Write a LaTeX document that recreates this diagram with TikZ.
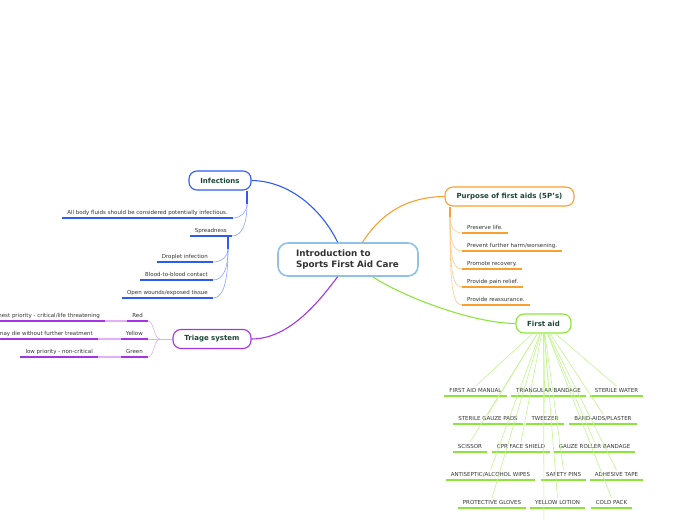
\documentclass[tikz,border=0pt]{standalone}
\usepackage{fontspec}
\setmainfont{DejaVu Sans}
\usetikzlibrary{
  arrows.meta,
  positioning
}
\definecolor{cblue}{HTML}{2E5BF5}
\definecolor{cblueL}{HTML}{8AA4FF}
\definecolor{cbluebox}{HTML}{8EC3E6}
\definecolor{corange}{HTML}{F9A12E}
\definecolor{corangeL}{HTML}{FCCB88}
\definecolor{cpurple}{HTML}{A534E6}
\definecolor{cpurpleL}{HTML}{DFB0F4}
\definecolor{cgreen}{HTML}{8CE63A}
\definecolor{cgreenL}{HTML}{C2F590}
\definecolor{topictxt}{HTML}{1B4636}
\definecolor{ctext}{HTML}{333333}
\newcommand{\leaffont}{\fontsize{5.5}{6.5}\selectfont}
\tikzset{
  topic/.style={draw=#1, line width=1.1pt, rounded corners=8pt, minimum height=19pt,
    inner xsep=0pt, text=topictxt, font=\bfseries\fontsize{7}{8}\selectfont},
  leaf/.style={text=ctext, font=\leaffont, inner xsep=5pt, inner ysep=2.2pt,
    text height=4pt, text depth=1.1pt,
    append after command={(\tikzlastnode.south west) edge[draw=#1, line width=1.8pt] (\tikzlastnode.south east)}},
  link/.style={draw=#1, line width=1.1pt},
  twig/.style={draw=#1, line width=0.6pt},
}

\begin{document}
\begin{tikzpicture}[x=1pt, y=-1pt]
  \useasboundingbox (0,0) rectangle (697,520);

  % main topics
  \node[draw=cbluebox, line width=1.6pt, rounded corners=10pt, text width=104pt,
    inner xsep=18pt, minimum height=33pt, align=left, text=ctext,
    font=\bfseries\fontsize{8.8}{11}\selectfont] (cen) at (348,259.5)
    {Introduction to\\Sports First Aid Care};
  \node[topic=cblue, minimum width=62pt] (inf) at (220,180.5) {Infections};
  \node[topic=corange, minimum width=129pt] (pur) at (509.5,196.5) {Purpose of first aids (5P's)};
  \node[topic=cpurple, minimum width=78pt] (tri) at (212,339) {Triage system};
  \node[topic=cgreen, minimum width=55pt] (fa) at (543.5,323.5) {First aid};

  \draw[link=cblue] (cen.121) .. controls (322,210) and (290,181) .. (inf.east);
  \draw[link=corange] (cen.50) .. controls (380,215) and (405,197) .. (pur.west);
  \draw[link=cpurple] (cen.-121) .. controls (320,300) and (290,339) .. (tri.east);
  \draw[link=cgreen] (cen.-35) .. controls (400,295) and (470,323) .. (fa.west);

  % infections
  \node[leaf=cblue, anchor=south east] (abf) at (233,218) {All body fluids should be considered potentially infectious.};
  \node[leaf=cblue, anchor=south east] (spr) at (232,236) {Spreadness};
  \node[leaf=cblue, anchor=south east] (dro) at (213,262) {Droplet infection};
  \node[leaf=cblue, anchor=south east] (bbc) at (213,280) {Blood-to-blood contact};
  \node[leaf=cblue, anchor=south east] (owt) at (213,298) {Open wounds/exposed tissue};

  \coordinate (inf-j) at (247,204);
  \draw[link=cblue] (inf.south -| inf-j) -- (inf-j);
  \draw[twig=cblueL] (inf-j) .. controls +(0,8) and +(8,0) .. (abf.south east);
  \draw[twig=cblueL] (inf-j) .. controls +(0,20) and +(10,0) .. (spr.south east);
  \coordinate (spr-j) at (228,249);
  \draw[link=cblue] (spr.south -| spr-j) -- (spr-j);
  \draw[twig=cblueL] (spr-j) .. controls +(0,8) and +(8,0) .. (dro.south east);
  \draw[twig=cblueL] (spr-j) .. controls +(0,20) and +(10,0) .. (bbc.south east);
  \draw[twig=cblueL] (spr-j) .. controls +(0,34) and +(10,0) .. (owt.south east);

  % purpose
  \node[leaf=corange, anchor=south west] (pl) at (462,233) {Preserve life.};
  \node[leaf=corange, anchor=south west] (pf) at (462,251) {Prevent further harm/worsening.};
  \node[leaf=corange, anchor=south west] (pr) at (462,269) {Promote recovery.};
  \node[leaf=corange, anchor=south west] (pp) at (462,287) {Provide pain relief.};
  \node[leaf=corange, anchor=south west] (pa) at (462,305) {Provide reassurance.};

  \coordinate (pur-j) at (450,217);
  \draw[link=corange] (pur.south -| pur-j) -- (pur-j);
  \draw[twig=corangeL] (pur-j) .. controls +(0,10) and +(-8,0) .. (pl.south west);
  \draw[twig=corangeL] (pur-j) .. controls +(0,24) and +(-9,0) .. (pf.south west);
  \draw[twig=corangeL] (pur-j) .. controls +(0,38) and +(-10,0) .. (pr.south west);
  \draw[twig=corangeL] (pur-j) .. controls +(0,52) and +(-10,0) .. (pp.south west);
  \draw[twig=corangeL] (pur-j) .. controls +(0,66) and +(-10,0) .. (pa.south west);

  % triage
  \node[leaf=cpurple, anchor=south east] (red) at (148,321) {Red};
  \node[leaf=cpurple, anchor=south east] (yel) at (148,339) {Yellow};
  \node[leaf=cpurple, anchor=south east] (grn) at (148,357) {Green};
  \node[leaf=cpurple, anchor=south east] (crit) at (105,321) {Highest priority - critical/life threatening};
  \node[leaf=cpurple, anchor=south east] (dly) at (98,339) {may die without further treatment};
  \node[leaf=cpurple, anchor=south east] (low) at (98,357) {low priority - non-critical};

  \coordinate (tri-j) at (160,339);
  \draw[twig=cpurpleL] (tri.west) -- (tri-j);
  \draw[twig=cpurpleL] (tri-j) .. controls +(-6,0) and +(6,0) .. (red.south east);
  \draw[twig=cpurpleL] (tri-j) -- (yel.south east);
  \draw[twig=cpurpleL] (tri-j) .. controls +(-6,0) and +(6,0) .. (grn.south east);
  \draw[draw=cpurpleL, line width=1.8pt] (crit.south east) -- (red.south west);
  \draw[draw=cpurpleL, line width=1.8pt] (dly.south east) -- (yel.south west);
  \draw[draw=cpurpleL, line width=1.8pt] (low.south east) -- (grn.south west);

  % first aid kit
  \node[leaf=cgreen, anchor=south] (fam) at (475.5,396) {FIRST AID MANUAL};
  \node[leaf=cgreen, anchor=south] (trb) at (548.5,396) {TRIANGULAR BANDAGE};
  \node[leaf=cgreen, anchor=south] (stw) at (616.5,396) {STERILE WATER};
  \node[leaf=cgreen, anchor=south] (sgp) at (488,424) {STERILE GAUZE PADS};
  \node[leaf=cgreen, anchor=south] (twz) at (545,424) {TWEEZER};
  \node[leaf=cgreen, anchor=south] (bap) at (603,424) {BAND-AIDS/PLASTER};
  \node[leaf=cgreen, anchor=south] (sci) at (470,452) {SCISSOR};
  \node[leaf=cgreen, anchor=south] (cpr) at (521,452) {CPR FACE SHIELD};
  \node[leaf=cgreen, anchor=south] (grb) at (594.5,452) {GAUZE ROLLER BANDAGE};
  \node[leaf=cgreen, anchor=south] (aaw) at (490.5,480) {ANTISEPTIC/ALCOHOL WIPES};
  \node[leaf=cgreen, anchor=south] (spn) at (563.5,480) {SAFETY PINS};
  \node[leaf=cgreen, anchor=south] (adt) at (616.5,480) {ADHESIVE TAPE};
  \node[leaf=cgreen, anchor=south] (pgl) at (492,508) {PROTECTIVE GLOVES};
  \node[leaf=cgreen, anchor=south] (ylo) at (557.5,508) {YELLOW LOTION};
  \node[leaf=cgreen, anchor=south] (cpk) at (611.5,508) {COLD PACK};
  \coordinate (fa-more) at (544,560);

  \foreach \n in {fam,trb,stw,sgp,twz,bap,sci,cpr,grb,aaw,spn,adt,pgl,ylo,cpk}
    \draw[twig=cgreenL] (fa) -- (\n.north);
  \draw[twig=cgreenL] (fa) -- (fa-more);
\end{tikzpicture}
\end{document}
